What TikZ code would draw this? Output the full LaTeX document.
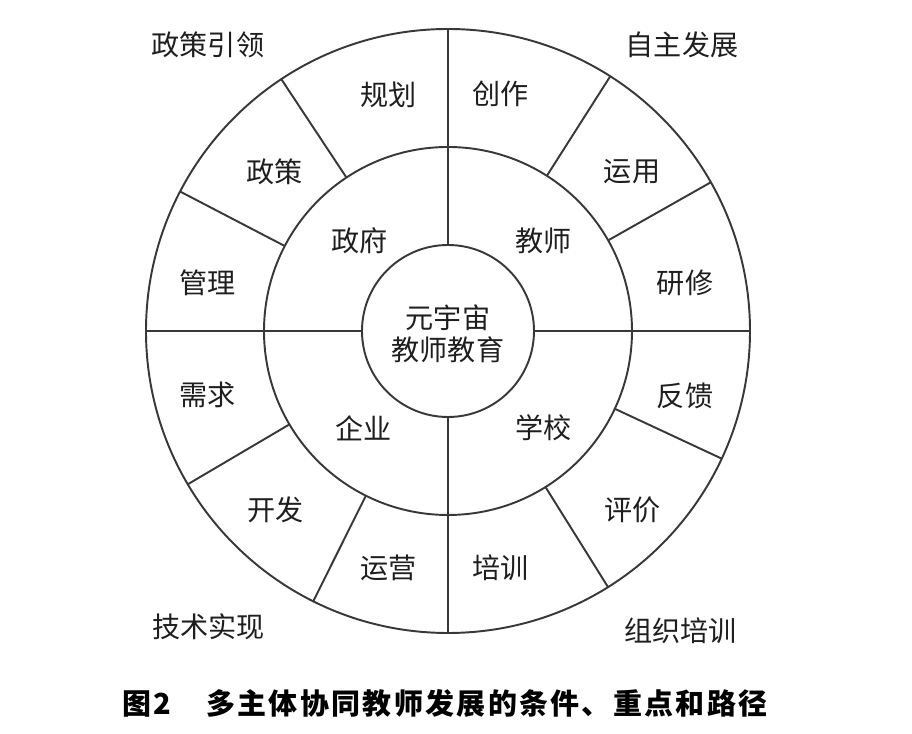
\documentclass[tikz,border=0pt]{standalone}
\usepackage{fontspec}
\setmainfont{Noto Sans CJK SC}
\definecolor{ringline}{HTML}{383838}
\definecolor{labeltext}{HTML}{1E1E1E}

\begin{document}
\begin{tikzpicture}[scale=0.02,
    ring/.style={line width=1.1pt, draw=ringline},
    lab/.style={font=\fontsize{16}{18}\selectfont, text=labeltext, inner sep=0pt},
    corner/.style={lab}]
    \useasboundingbox (-448,-403) rectangle (464,331);

    % The three circles
    \draw[ring] (0,0) circle (302);
    \draw[ring] (0,0) circle (184);
    \draw[ring] (0,0) circle (86);

    % Cross lines through both rings
    \foreach \a in {0,90,180,270}
        \draw[ring] (\a:86) -- (\a:302);
    % Spokes of the outer ring only
    \foreach \a in {29.5,57.5,123.5,152.5,210.5,243.5,302,335}
        \draw[ring] (\a:184) -- (\a:302);

    % Centre
    \node[lab, align=center, font=\fontsize{16}{18.4}\selectfont] (core) at (0,-3) {元宇宙\\教师教育};

    % Middle ring
    \node[lab] (gov) at (-88,90) {政府};
    \node[lab] (teacher) at (96,90) {教师};
    \node[lab] (firm) at (-84,-97) {企业};
    \node[lab] (school) at (96,-97) {学校};

    % Outer ring, clockwise from the top
    \node[lab] (create) at (53,237) {创作};
    \node[lab] (use) at (184,159) {运用};
    \node[lab] (study) at (237,48) {研修};
    \node[lab] (feedback) at (237,-65) {反馈};
    \node[lab] (assess) at (184.5,-179) {评价};
    \node[lab] (train) at (53,-237) {培训};
    \node[lab] (operate) at (-59,-237) {运营};
    \node[lab] (develop) at (-172.5,-179) {开发};
    \node[lab] (demand) at (-240,-64) {需求};
    \node[lab] (manage) at (-240,48) {管理};
    \node[lab] (policy) at (-173,159) {政策};
    \node[lab] (plan) at (-59,236) {规划};

    % Corner labels
    \node[corner] (lead) at (-240,286) {政策引领};
    \node[corner] (self) at (234,286) {自主发展};
    \node[corner] (tech) at (-239.5,-296) {技术实现};
    \node[corner] (org) at (232.5,-300) {组织培训};

    % Caption
    \node[inner sep=0pt, text=black, font=\fontsize{16.5}{18}\selectfont\bfseries\addfontfeature{LetterSpace=8}]
        (caption) at (-3,-372) {图2\hspace{1.2em}多主体协同教师发展的条件、重点和路径};
\end{tikzpicture}
\end{document}
